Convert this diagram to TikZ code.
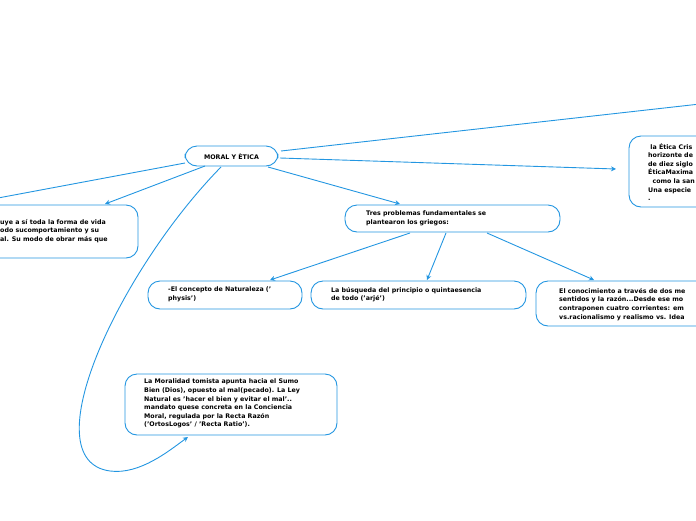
\documentclass[tikz,border=0pt]{standalone}
\usepackage{fontspec}
\setmainfont{DejaVu Sans}
\usetikzlibrary{arrows.meta}
\definecolor{lb}{RGB}{35,150,225}
\begin{document}
\begin{tikzpicture}[x=1pt,y=-1pt,
  bx/.style={draw=lb,line width=0.9pt,rounded corners=12pt,fill=white},
  tx/.style={anchor=north west,align=left,font=\bfseries\fontsize{6.3}{8.6}\selectfont,inner sep=0pt},
  ln/.style={draw=lb,line width=0.9pt},
  ar/.style={ln,-{Stealth[length=5pt,width=5pt]}}]
\useasboundingbox (0,0) rectangle (696,520);
\clip (0,0) rectangle (696,520);
% boxes
\draw[bx] (185,146) rectangle (278,166);
\node[font=\bfseries\fontsize{6.3}{8}\selectfont] (m) at (231.5,156.5) {MORAL Y ÈTICA};
\coordinate (mtr) at (281,151);
\coordinate (top) at (700,104);
\coordinate (fl) at (-2,198);
\draw[ln] (mtr) -- (top);
\draw[ln] (185,163) -- (fl);
\coordinate (lbx) at (105,204);
\draw[bx] (-60,205) rectangle (138,258);
\node[tx] (l) at (0,219) {uye a sí toda la forma de vida\\odo sucomportamiento y su\\al. Su modo de obrar más que};
\draw[bx] (345,205) rectangle (560,232);
\node[tx] (t) at (366,211) {Tres problemas fundamentales se\\plantearon los griegos:};
\draw[bx] (148,281) rectangle (302,309);
\node[tx] (n) at (168,287) {-El concepto de Naturaleza ('\\ physis')};
\draw[bx] (311,281) rectangle (526,309);
\node[tx] (b) at (331,287) {La búsqueda del principio o quintaesencia\\de todo ('arjé')};
\draw[bx] (536,281) rectangle (740,326);
\node[tx] (c) at (559,288) {El conocimiento a través de dos me\\sentidos y la razón...Desde ese mo\\contraponen cuatro corrientes: em\\vs.racionalismo y realismo vs. Idea};
\draw[bx] (629,136) rectangle (740,207);
\node[tx] (e) at (648,143) {\ la Ética Cris\\horizonte de\\de diez siglo\\ÉticaMaxima\\\ \ como la san\\Una especie\\.};
\draw[bx] (125,374) rectangle (337,435);
\node[tx] (mo) at (144,379) {La Moralidad tomista apunta hacia el Sumo\\Bien (Dios), opuesto al mal(pecado). La Ley\\Natural es 'hacer el bien y evitar el mal'..\\mandato quese concreta en la Conciencia\\Moral, regulada por la Recta Razón\\('OrtosLogos' / 'Recta Ratio').};
% arrows
\draw[ar] (205,166) -- (105,204);
\draw[ar] (268,167) -- (400,204);
\draw[ar] (280,158) -- (616,169);
\draw[ar] (221,167) .. controls (120,270) and (30,460) .. (110,471) .. controls (140,475) and (170,450) .. (188,437);
\draw[ar] (410,233) -- (270,280);
\draw[ar] (446,233) -- (427,280);
\draw[ar] (487,233) -- (594,280);
\end{tikzpicture}
\end{document}
